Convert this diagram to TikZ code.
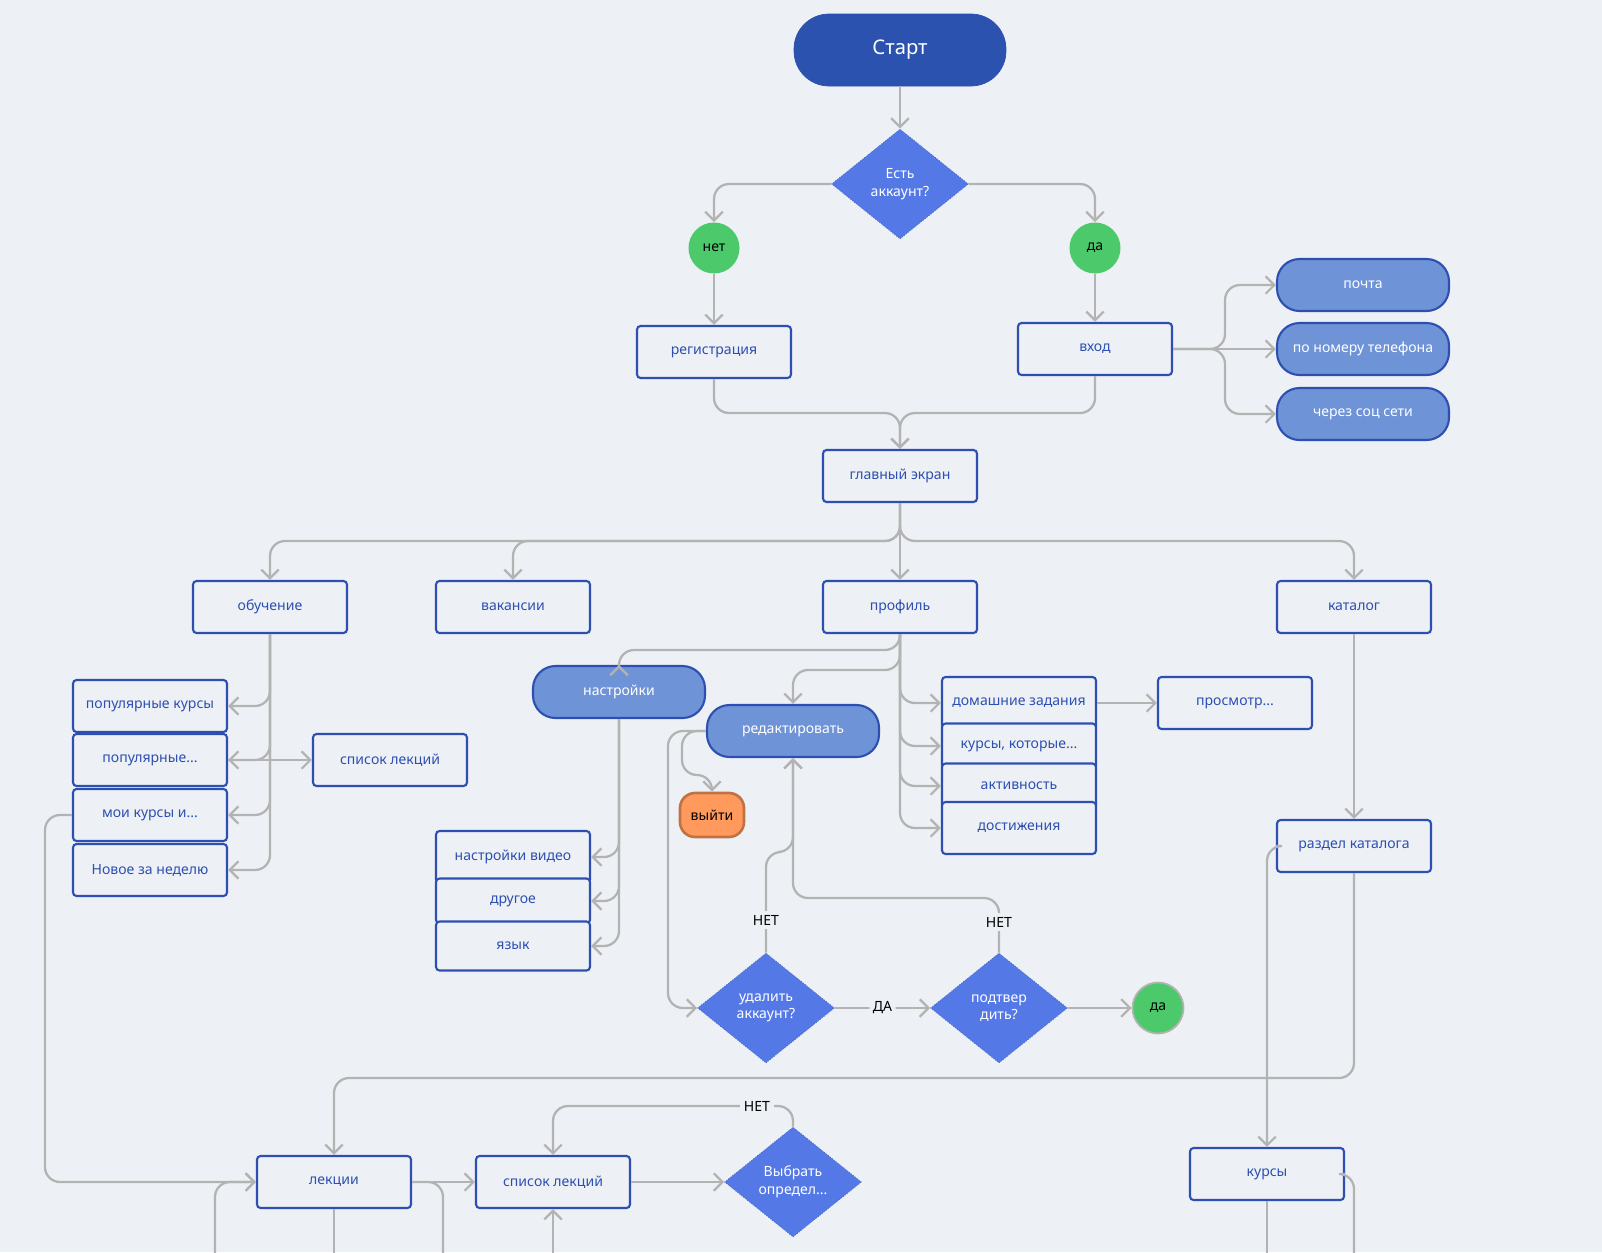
\documentclass[tikz,border=0pt]{standalone}
\usepackage{fontspec}
\setmainfont{Noto Sans}
\usetikzlibrary{shapes.geometric,arrows.meta}
\definecolor{bg}{HTML}{EDF1F5}
\definecolor{edge}{HTML}{2D4FB2}
\definecolor{dark}{HTML}{2C52B0}
\definecolor{dia}{HTML}{5479E6}
\definecolor{soft}{HTML}{6E93D6}
\definecolor{okgreen}{HTML}{4CC96A}
\definecolor{orng}{HTML}{FF9A5C}
\definecolor{line}{HTML}{B3B3B3}
\tikzset{
  box/.style={draw=edge, line width=1.2pt, fill=bg, rounded corners=2pt, minimum width=3.08cm, minimum height=1.04cm, text=edge, font=\fontsize{8}{9}\selectfont},
  pill/.style={draw=edge, line width=1.2pt, fill=soft, rounded corners=0.45cm, minimum width=3.44cm, minimum height=1.04cm, text=white, font=\fontsize{8}{9}\selectfont},
  dec/.style={diamond, fill=dia, draw=dia!80!black, densely dotted, minimum width=2.74cm, minimum height=2.2cm, inner sep=0pt, text=white, align=center, font=\fontsize{8}{10}\selectfont},
  yes/.style={circle, fill=okgreen, minimum size=1.02cm, inner sep=0pt, font=\fontsize{8}{9}\selectfont},
  lbl/.style={fill=bg, inner sep=2pt, font=\fontsize{8}{9}\selectfont},
  wire/.style={draw=line, line width=1.3pt, rounded corners=0.3cm},
  go/.style={wire, -{Straight Barb[length=5pt,width=10pt]}},
}
\begin{document}
\begin{tikzpicture}[x=0.02cm, y=-0.02cm]
\fill[bg] (0,0) rectangle (1602,1252);
\useasboundingbox (0,0) rectangle (1602,1252);
\clip (0,0) rectangle (1602,1252);
% nodes
\node[fill=dark, draw=edge, rounded corners=0.7cm, minimum width=4.24cm, minimum height=1.44cm, text=white, font=\fontsize{11.5}{13}\selectfont] (start) at (900,50) {Старт};
\node[dec] (acc) at (900,184) {Есть\\аккаунт?};
\node[yes] (no1) at (714,248) {нет};
\node[yes] (yes1) at (1095,248) {да};
\node[box] (reg) at (714,352) {регистрация};
\node[box] (login) at (1095,349) {вход};
\node[pill] (mail) at (1363,285) {почта};
\node[pill] (phone) at (1363,349) {по номеру телефона};
\node[pill] (social) at (1363,414) {через соц сети};
\node[box] (home) at (900,476) {главный экран};
\node[box] (learn) at (270,607) {обучение};
\node[box] (jobs) at (513,607) {вакансии};
\node[box] (profile) at (900,607) {профиль};
\node[box] (catalog) at (1354,607) {каталог};
\node[box] (pop) at (150,706) {популярные курсы};
\node[box] (pop2) at (150,760) {популярные...};
\node[box] (mine) at (150,815) {мои курсы и...};
\node[box] (news) at (150,870) {Новое за неделю};
\node[box] (lst) at (390,760) {список лекций};
\node[pill] (settings) at (619,692) {настройки};
\node[pill] (edit) at (793,731) {редактировать};
\node[fill=orng, draw=orng!75!black, line width=1.5pt, rounded corners=0.3cm, minimum width=1.28cm, minimum height=0.88cm, font=\fontsize{8}{9}\selectfont\bfseries] (quit) at (712,815) {выйти};
\node[box] (video) at (513,857) {настройки видео};
\node[box, minimum height=0.9cm] (other) at (513,901) {другое};
\node[box, minimum height=0.98cm] (lang) at (513,946) {язык};
\node[box] (hw) at (1019,703) {домашние задания};
\node[box, minimum height=0.9cm] (cour) at (1019,746) {курсы, которые...};
\node[box, minimum height=0.9cm] (act) at (1019,786) {активность};
\node[box] (achv) at (1019,828) {достижения};
\node[box] (view) at (1235,703) {просмотр...};
\node[dec] (del) at (766,1008) {удалить\\аккаунт?};
\node[dec] (conf) at (999,1008) {подтвер\\дить?};
\node[yes, draw=line, line width=1pt] (yes2) at (1158,1008) {да};
\node[box] (part) at (1354,846) {раздел каталога};
\node[box] (lect) at (334,1182) {лекции};
\node[box] (lst2) at (553,1182) {список лекций};
\node[dec] (pick) at (793,1182) {Выбрать\\определ...};
\node[box] (crs) at (1267,1174) {курсы};
% connectors
\draw[go] (start) -- (acc);
\draw[go] (acc.west) -| (no1);
\draw[go] (acc.east) -| (yes1);
\draw[go] (no1) -- (reg);
\draw[go] (yes1) -- (login);
\draw[go] (login.east) -- (1225,349) |- (mail.west);
\draw[go] (login.east) -- (phone.west);
\draw[go] (login.east) -- (1225,349) |- (social.west);
\draw[go] (reg.south) -- (714,413) -- (900,413) -- (home.north);
\draw[go] (login.south) -- (1095,413) -- (900,413) -- (home.north);
\draw[go] (home) -- (profile);
\draw[go] (home.south) -- (900,541) -| (learn.north);
\draw[go] (home.south) -- (900,541) -| (jobs.north);
\draw[go] (home.south) -- (900,541) -| (catalog.north);
\draw[go] (learn.south) |- (pop.east);
\draw[go] (learn.south) |- (pop2.east);
\draw[go] (learn.south) |- (mine.east);
\draw[go] (learn.south) |- (news.east);
\draw[go] (pop2.east) -- (lst.west);
\draw[go] (mine.west) -- (45,815) |- (lect.west);
\draw[go] (profile.south) |- (619,650) -- (settings.north);
\draw[go] (profile.south) |- (793,670) -- (edit.north);
\draw[go] (profile.south) |- (hw.west);
\draw[go] (profile.south) |- (cour.west);
\draw[go] (profile.south) |- (act.west);
\draw[go] (profile.south) |- (achv.west);
\draw[go] (hw.east) -- (view.west);
\draw[go] (settings.south) |- (video.east);
\draw[go] (settings.south) |- (other.east);
\draw[go] (settings.south) |- (lang.east);
\draw[go] (edit.west) -- (682,731) -- (682,775) -- (712,775) -- (quit.north);
\draw[go] (edit.west) -- (668,731) |- (del.west);
\draw[go] (del.north) -- (766,852) -- (793,852) -- (edit.south);
\draw[go] (conf.north) -- (999,898) -- (793,898) -- (edit.south);
\node[lbl] (no2) at (766,920) {НЕТ};
\node[lbl] (no3) at (999,922) {НЕТ};
\draw[go] (del.east) -- node[lbl] (da) {ДА} (conf.west);
\draw[go] (conf.east) -- (yes2.west);
\draw[go] (catalog.south) -- (part.north);
\draw[go] (part.west) -| (crs.north);
\draw[go] (part.south) -- (1354,1078) -- (334,1078) -- (lect.north);
\draw[go] (lect.east) -- (lst2.west);
\draw[go] (lst2.east) -- (pick.west);
\draw[go] (pick.north) -- (793,1106) -- (553,1106) -- (lst2.north);
\node[lbl] (no4) at (757,1106) {НЕТ};
\draw[wire] (lect.south) -- (334,1260);
\draw[go] (215,1260) -- (215,1182) -- (lect.west);
\draw[wire] (lect.east) -- (443,1182) -- (443,1260);
\draw[go] (553,1260) -- (lst2.south);
\draw[wire] (crs.south) -- (1267,1260);
\draw[wire] (crs.east) -- (1354,1174) -- (1354,1260);
\end{tikzpicture}
\end{document}
